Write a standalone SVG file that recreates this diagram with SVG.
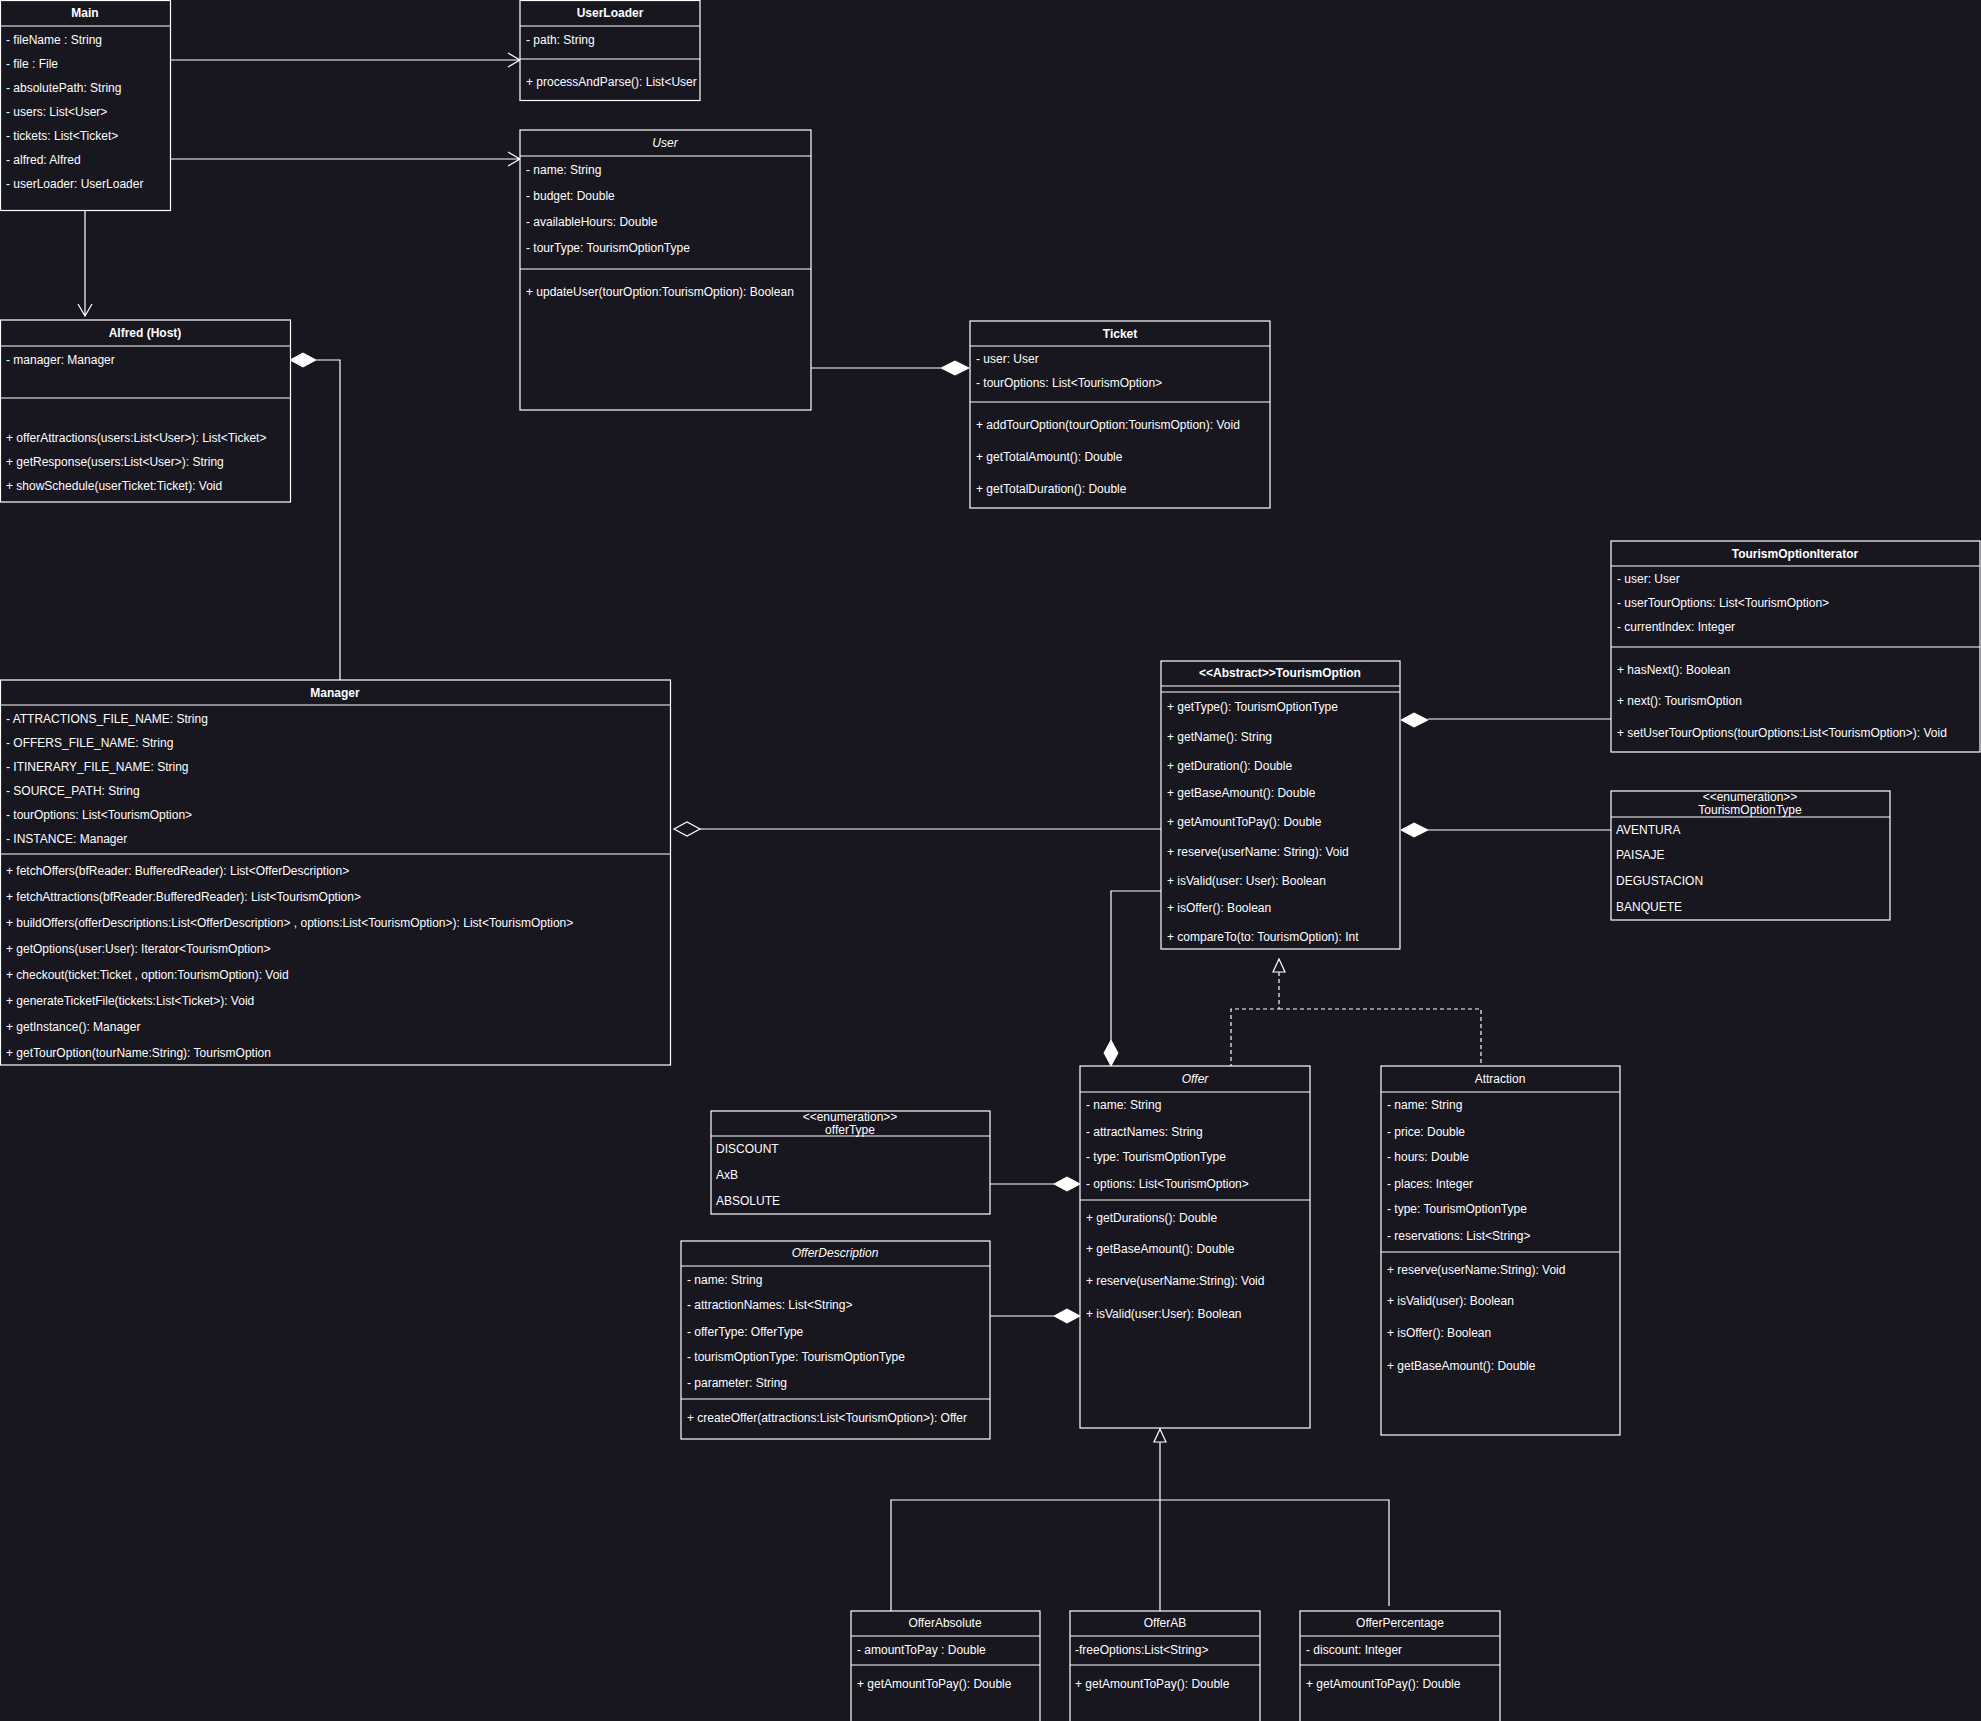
<svg xmlns="http://www.w3.org/2000/svg" width="1981" height="1721" viewBox="0 0 1981 1721">
<style>
.b{fill:#18161f;stroke:#fff;stroke-width:1.2}
.l{stroke:#fff;stroke-width:1.2;fill:none}
text{font-family:"Liberation Sans",Arial,sans-serif;font-size:12px;fill:#fff;dominant-baseline:central}
.t{font-weight:bold;text-anchor:middle}
.i{font-style:italic;text-anchor:middle}
.n{text-anchor:middle}
.fd{fill:#fff;stroke:#fff}
.hd{fill:#18161f;stroke:#fff;stroke-width:1.2}
</style>
<rect width="1981" height="1721" fill="#18161f"/>
<g id="connectors">
<path class="l" d="M170 60H520M508 53L520 60L508 67"/>
<path class="l" d="M170 159H520M508 152L520 159L508 166"/>
<path class="l" d="M85 210V316M78 304L85 316L92 304"/>
<path class="l" d="M316 360H340V680"/><path class="fd" d="M290 360L303 353L316 360L303 367Z"/>
<path class="l" d="M811 368H941"/><path class="fd" d="M941 368L955 361L969 368L955 375Z"/>
<path class="l" d="M1611 719H1428"/><path class="fd" d="M1401 720L1414 713L1428 720L1414 727Z"/>
<path class="l" d="M1611 830H1428"/><path class="fd" d="M1401 830L1414 823L1428 830L1414 837Z"/>
<path class="l" d="M1161 829H700"/><path class="hd" d="M674 829L687 822L700 829L687 836Z"/>
<path class="l" d="M1161 891H1111V1040"/><path class="fd" d="M1111 1040L1118 1053L1111 1066L1104 1053Z"/>
<path class="l" d="M1279 972V1009H1231V1066M1279 1009H1481V1066" stroke-dasharray="4 3"/><path class="hd" d="M1279 959L1285 972H1273Z"/>
<path class="l" d="M990 1184H1054"/><path class="fd" d="M1054 1184L1067 1177L1080 1184L1067 1191Z"/>
<path class="l" d="M990 1316H1054"/><path class="fd" d="M1054 1316L1067 1309L1080 1316L1067 1323Z"/>
<path class="l" d="M1160 1442V1611M891 1611V1500H1389V1606"/><path class="hd" d="M1160 1429L1166 1442H1154Z"/>
</g>
<g id="Main"><rect class="b" x="0.5" y="0.5" width="170" height="210"/><path class="l" d="M0 26H170"/>
<text class="t" x="85" y="13">Main</text>
<text x="6" y="40">- fileName : String</text><text x="6" y="64">- file : File</text><text x="6" y="88">- absolutePath: String</text><text x="6" y="112">- users: List&lt;User&gt;</text><text x="6" y="136">- tickets: List&lt;Ticket&gt;</text><text x="6" y="160">- alfred: Alfred</text><text x="6" y="184">- userLoader: UserLoader</text></g>
<g id="UserLoader"><rect class="b" x="520" y="0.5" width="180" height="100"/><path class="l" d="M520 26H700M520 59H700"/>
<text class="t" x="610" y="13">UserLoader</text><text x="526" y="40">- path: String</text><text x="526" y="82">+ processAndParse(): List&lt;User</text></g>
<g id="User"><rect class="b" x="520" y="130" width="291" height="280"/><path class="l" d="M520 156H811M520 269H811"/>
<text class="i" x="665" y="143">User</text>
<text x="526" y="170">- name: String</text><text x="526" y="196">- budget: Double</text><text x="526" y="222">- availableHours: Double</text><text x="526" y="248">- tourType: TourismOptionType</text>
<text x="526" y="292">+ updateUser(tourOption:TourismOption): Boolean</text></g>
<g id="Alfred"><rect class="b" x="0.5" y="320" width="290" height="182"/><path class="l" d="M0 346H290M0 398H290"/>
<text class="t" x="145" y="333">Alfred (Host)</text><text x="6" y="360">- manager: Manager</text>
<text x="6" y="438">+ offerAttractions(users:List&lt;User&gt;): List&lt;Ticket&gt;</text><text x="6" y="462">+ getResponse(users:List&lt;User&gt;): String</text><text x="6" y="486">+ showSchedule(userTicket:Ticket): Void</text></g>
<g id="Ticket"><rect class="b" x="970" y="321" width="300" height="187"/><path class="l" d="M970 346H1270M970 402H1270"/>
<text class="t" x="1120" y="334">Ticket</text><text x="976" y="359">- user: User</text><text x="976" y="383">- tourOptions: List&lt;TourismOption&gt;</text>
<text x="976" y="425">+ addTourOption(tourOption:TourismOption): Void</text><text x="976" y="457">+ getTotalAmount(): Double</text><text x="976" y="489">+ getTotalDuration(): Double</text></g>
<g id="TourismOptionIterator"><rect class="b" x="1611" y="541" width="369" height="211"/><path class="l" d="M1611 566H1980M1611 647H1980"/>
<text class="t" x="1795" y="554">TourismOptionIterator</text><text x="1617" y="579">- user: User</text><text x="1617" y="603">- userTourOptions: List&lt;TourismOption&gt;</text><text x="1617" y="627">- currentIndex: Integer</text>
<text x="1617" y="670">+ hasNext(): Boolean</text><text x="1617" y="701">+ next(): TourismOption</text><text x="1617" y="733">+ setUserTourOptions(tourOptions:List&lt;TourismOption&gt;): Void</text></g>
<g id="TourismOption"><rect class="b" x="1161" y="661" width="239" height="288"/><path class="l" d="M1161 686H1400M1161 692H1400"/>
<text class="t" x="1280" y="673">&lt;&lt;Abstract&gt;&gt;TourismOption</text>
<text x="1167" y="707">+ getType(): TourismOptionType</text><text x="1167" y="737">+ getName(): String</text><text x="1167" y="766">+ getDuration(): Double</text><text x="1167" y="793">+ getBaseAmount(): Double</text><text x="1167" y="822">+ getAmountToPay(): Double</text><text x="1167" y="852">+ reserve(userName: String): Void</text><text x="1167" y="881">+ isValid(user: User): Boolean</text><text x="1167" y="908">+ isOffer(): Boolean</text><text x="1167" y="937">+ compareTo(to: TourismOption): Int</text></g>
<g id="TourismOptionType"><rect class="b" x="1611" y="791" width="279" height="129"/><path class="l" d="M1611 817H1890"/>
<text class="n" x="1750" y="797">&lt;&lt;enumeration&gt;&gt;</text><text class="n" x="1750" y="810">TourismOptionType</text>
<text x="1616" y="830">AVENTURA</text><text x="1616" y="855">PAISAJE</text><text x="1616" y="881">DEGUSTACION</text><text x="1616" y="907">BANQUETE</text></g>
<g id="Manager"><rect class="b" x="0.5" y="680" width="670" height="385"/><path class="l" d="M0 705H670M0 854H670"/>
<text class="t" x="335" y="693">Manager</text>
<text x="6" y="719">- ATTRACTIONS_FILE_NAME: String</text><text x="6" y="743">- OFFERS_FILE_NAME: String</text><text x="6" y="767">- ITINERARY_FILE_NAME: String</text><text x="6" y="791">- SOURCE_PATH: String</text><text x="6" y="815">- tourOptions: List&lt;TourismOption&gt;</text><text x="6" y="839">- INSTANCE: Manager</text>
<text x="6" y="871">+ fetchOffers(bfReader: BufferedReader): List&lt;OfferDescription&gt;</text><text x="6" y="897">+ fetchAttractions(bfReader:BufferedReader): List&lt;TourismOption&gt;</text><text x="6" y="923">+ buildOffers(offerDescriptions:List&lt;OfferDescription&gt; , options:List&lt;TourismOption&gt;): List&lt;TourismOption&gt;</text><text x="6" y="949">+ getOptions(user:User): Iterator&lt;TourismOption&gt;</text><text x="6" y="975">+ checkout(ticket:Ticket , option:TourismOption): Void</text><text x="6" y="1001">+ generateTicketFile(tickets:List&lt;Ticket&gt;): Void</text><text x="6" y="1027">+ getInstance(): Manager</text><text x="6" y="1053">+ getTourOption(tourName:String): TourismOption</text></g>
<g id="Offer"><rect class="b" x="1080" y="1066" width="230" height="362"/><path class="l" d="M1080 1092H1310M1080 1200H1310"/>
<text class="i" x="1195" y="1079">Offer</text>
<text x="1086" y="1105">- name: String</text><text x="1086" y="1132">- attractNames: String</text><text x="1086" y="1157">- type: TourismOptionType</text><text x="1086" y="1184">- options: List&lt;TourismOption&gt;</text>
<text x="1086" y="1218">+ getDurations(): Double</text><text x="1086" y="1249">+ getBaseAmount(): Double</text><text x="1086" y="1281">+ reserve(userName:String): Void</text><text x="1086" y="1314">+ isValid(user:User): Boolean</text></g>
<g id="Attraction"><rect class="b" x="1381" y="1066" width="239" height="369"/><path class="l" d="M1381 1092H1620M1381 1252H1620"/>
<text class="n" x="1500" y="1079">Attraction</text>
<text x="1387" y="1105">- name: String</text><text x="1387" y="1132">- price: Double</text><text x="1387" y="1157">- hours: Double</text><text x="1387" y="1184">- places: Integer</text><text x="1387" y="1209">- type: TourismOptionType</text><text x="1387" y="1236">- reservations: List&lt;String&gt;</text>
<text x="1387" y="1270">+ reserve(userName:String): Void</text><text x="1387" y="1301">+ isValid(user): Boolean</text><text x="1387" y="1333">+ isOffer(): Boolean</text><text x="1387" y="1366">+ getBaseAmount(): Double</text></g>
<g id="offerType"><rect class="b" x="711" y="1111" width="279" height="103"/><path class="l" d="M711 1136H990"/>
<text class="n" x="850" y="1117">&lt;&lt;enumeration&gt;&gt;</text><text class="n" x="850" y="1130">offerType</text>
<text x="716" y="1149">DISCOUNT</text><text x="716" y="1175">AxB</text><text x="716" y="1201">ABSOLUTE</text></g>
<g id="OfferDescription"><rect class="b" x="681" y="1241" width="309" height="198"/><path class="l" d="M681 1266H990M681 1399H990"/>
<text class="i" x="835" y="1253">OfferDescription</text>
<text x="687" y="1280">- name: String</text><text x="687" y="1305">- attractionNames: List&lt;String&gt;</text><text x="687" y="1332">- offerType: OfferType</text><text x="687" y="1357">- tourismOptionType: TourismOptionType</text><text x="687" y="1383">- parameter: String</text>
<text x="687" y="1418">+ createOffer(attractions:List&lt;TourismOption&gt;): Offer</text></g>
<g id="OfferAbsolute"><rect class="b" x="851" y="1611" width="189" height="115"/><path class="l" d="M851 1636H1040M851 1665H1040"/>
<text class="n" x="945" y="1623">OfferAbsolute</text><text x="857" y="1650">- amountToPay : Double</text><text x="857" y="1684">+ getAmountToPay(): Double</text></g>
<g id="OfferAB"><rect class="b" x="1070" y="1611" width="190" height="115"/><path class="l" d="M1070 1636H1260M1070 1665H1260"/>
<text class="n" x="1165" y="1623">OfferAB</text><text x="1075" y="1650">-freeOptions:List&lt;String&gt;</text><text x="1075" y="1684">+ getAmountToPay(): Double</text></g>
<g id="OfferPercentage"><rect class="b" x="1300" y="1611" width="200" height="115"/><path class="l" d="M1300 1636H1500M1300 1665H1500"/>
<text class="n" x="1400" y="1623">OfferPercentage</text><text x="1306" y="1650">- discount: Integer</text><text x="1306" y="1684">+ getAmountToPay(): Double</text></g>
</svg>
